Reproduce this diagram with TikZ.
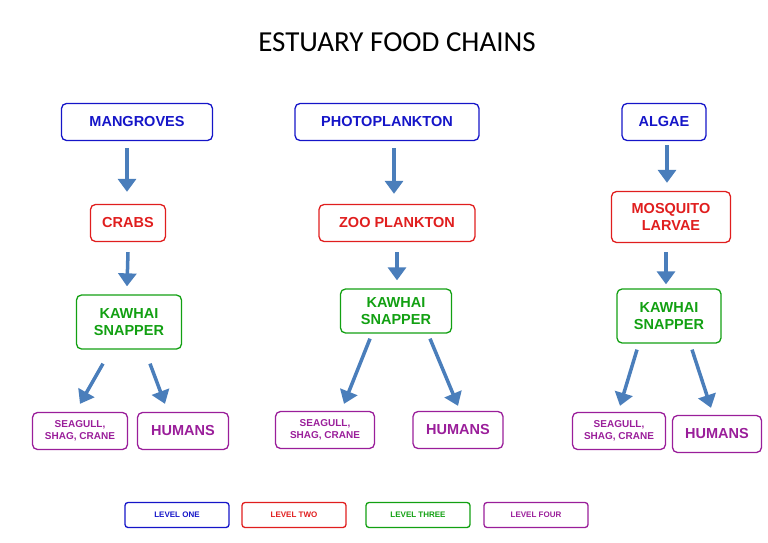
\documentclass[tikz,border=0pt]{standalone}
\usepackage{fontspec}
\setmainfont{Liberation Sans}
\newfontfamily\titlef{Carlito}
\usetikzlibrary{arrows.meta}
\definecolor{cb}{HTML}{1515C8}
\definecolor{cr}{HTML}{E01E1E}
\definecolor{cg}{HTML}{12A012}
\definecolor{cp}{HTML}{9A1E9A}
\definecolor{ca}{HTML}{4A7EBB}
\begin{document}
\begin{tikzpicture}[x=1pt,y=-1pt,
 box/.style={draw,rounded corners=5pt,line width=1.3pt,align=center,font=\bfseries\fontsize{14.5}{16.5}\selectfont,inner sep=0pt},
 bl/.style={box,draw=cb,text=cb},
 rd/.style={box,draw=cr,text=cr},
 gr/.style={box,draw=cg,text=cg},
 pu/.style={box,draw=cp,text=cp},
 sm/.style={font=\bfseries\fontsize{10}{11.5}\selectfont},
 lg/.style={font=\bfseries\fontsize{8}{9}\selectfont,minimum height=25pt,minimum width=104pt,rounded corners=3pt},
 arr/.style={draw=ca,line width=3.5pt,-{Triangle[length=13pt,width=18pt]}}]
\useasboundingbox (0,0) rectangle (768,543);
\node[font=\titlef\fontsize{29}{32}\selectfont] (t) at (397,42) {ESTUARY FOOD CHAINS};
\node[bl,minimum width=151pt,minimum height=37pt] (m) at (137,122) {MANGROVES};
\node[bl,minimum width=184pt,minimum height=37pt] (p) at (387,122) {PHOTOPLANKTON};
\node[bl,minimum width=84pt,minimum height=37pt] (a) at (664,122) {ALGAE};
\node[rd,minimum width=75pt,minimum height=37pt] (c) at (128,223) {CRABS};
\node[rd,minimum width=156pt,minimum height=37pt] (z) at (397,223) {ZOO PLANKTON};
\node[rd,minimum width=119pt,minimum height=51pt] (l) at (671,217) {MOSQUITO\\LARVAE};
\node[gr,minimum width=105pt,minimum height=54pt] (k1) at (129,322) {KAWHAI\\SNAPPER};
\node[gr,minimum width=111pt,minimum height=44pt] (k2) at (396,311) {KAWHAI\\SNAPPER};
\node[gr,minimum width=104pt,minimum height=54pt] (k3) at (669,316) {KAWHAI\\SNAPPER};
\node[pu,sm,minimum width=95pt,minimum height=37pt] (s1) at (80,431) {SEAGULL,\\SHAG, CRANE};
\node[pu,minimum width=91pt,minimum height=37pt] (h1) at (183,431) {HUMANS};
\node[pu,sm,minimum width=99pt,minimum height=37pt] (s2) at (325,430) {SEAGULL,\\SHAG, CRANE};
\node[pu,minimum width=90pt,minimum height=37pt] (h2) at (458,430) {HUMANS};
\node[pu,sm,minimum width=93pt,minimum height=37pt] (s3) at (619,431) {SEAGULL,\\SHAG, CRANE};
\node[pu,minimum width=89pt,minimum height=37pt] (h3) at (717,434) {HUMANS};
\node[bl,lg] (L1) at (177,515) {LEVEL ONE};
\node[rd,lg] (L2) at (294,515) {LEVEL TWO};
\node[gr,lg] (L3) at (418,515) {LEVEL THREE};
\node[pu,lg] (L4) at (536,515) {LEVEL FOUR};
\draw[arr] ([xshift=-10pt,yshift=-7pt]m.south) -- ([xshift=-1pt,yshift=12pt]c.north);
\draw[arr] ([xshift=7pt,yshift=-7pt]p.south) -- ([xshift=-3pt,yshift=10pt]z.north);
\draw[arr] ([xshift=3pt,yshift=-4pt]a.south) -- ([xshift=-4pt,yshift=8pt]l.north);
\draw[arr] ([yshift=-10pt]c.south) -- ([xshift=-2pt,yshift=8pt]k1.north);
\draw[arr] ([yshift=-10pt]z.south) -- ([xshift=1pt,yshift=8pt]k2.north);
\draw[arr] ([xshift=-5pt,yshift=-9pt]l.south) -- ([xshift=-3pt,yshift=4pt]k3.north);
\draw[arr] ([xshift=-26pt,yshift=-14pt]k1.south) -- ([yshift=8pt]s1.north);
\draw[arr] ([xshift=21pt,yshift=-14pt]k1.south) -- ([xshift=-18pt,yshift=8pt]h1.north);
\draw[arr] ([xshift=-26pt,yshift=-5pt]k2.south) -- ([xshift=19pt,yshift=7pt]s2.north);
\draw[arr] ([xshift=34pt,yshift=-5pt]k2.south) -- ([xshift=0pt,yshift=5pt]h2.north);
\draw[arr] ([xshift=-32pt,yshift=-6pt]k3.south) -- ([xshift=1pt,yshift=6pt]s3.north);
\draw[arr] ([xshift=23pt,yshift=-6pt]k3.south) -- ([xshift=-6pt,yshift=7pt]h3.north);
\end{tikzpicture}
\end{document}
